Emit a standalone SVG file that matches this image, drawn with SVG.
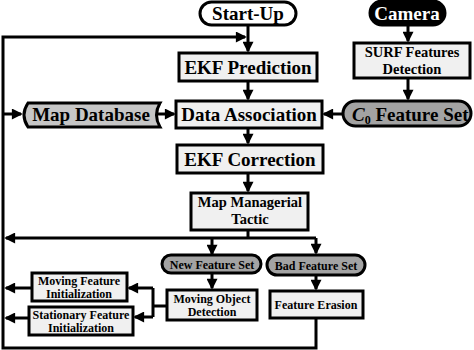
<svg xmlns="http://www.w3.org/2000/svg" width="474" height="350" viewBox="0 0 474 350">
<style>
.box{fill:#f0f0f0;stroke:#000;stroke-width:3}
.pill{fill:#a3a3a3;stroke:#000;stroke-width:3}
.db{fill:#c6c6c6;stroke:#000;stroke-width:3}
.ln{fill:none;stroke:#000;stroke-width:3}
.t{font-weight:bold;fill:#000;text-anchor:middle}
.big{font-size:19px}
.mid{font-size:14.5px}
.sm{font-size:12px}
</style>
<defs>
<marker id="ah" viewBox="0 0 10 10" refX="8.3" refY="5" markerWidth="12" markerHeight="11" markerUnits="userSpaceOnUse" orient="auto">
<path d="M0,0 L10,5 L0,10 z" fill="#000"/>
</marker>
</defs>
<rect width="474" height="350" fill="#fff"/>
<g id="connectors">
<path class="ln" d="M316,318 V348 H3 V37 H245" marker-end="url(#ah)"/>
<path class="ln" d="M248,25 V51" marker-end="url(#ah)"/>
<path class="ln" d="M248,81 V99" marker-end="url(#ah)"/>
<path class="ln" d="M248,128 V143" marker-end="url(#ah)"/>
<path class="ln" d="M248,173 V191" marker-end="url(#ah)"/>
<path class="ln" d="M3,114 H21" marker-end="url(#ah)"/>
<path class="ln" d="M158,114 H174" marker-end="url(#ah)"/>
<path class="ln" d="M343,114 H324" marker-end="url(#ah)"/>
<path class="ln" d="M408,25 V41" marker-end="url(#ah)"/>
<path class="ln" d="M408,78 V99" marker-end="url(#ah)"/>
<path class="ln" d="M248,230 V238"/>
<path class="ln" d="M316,238 H6" marker-end="url(#ah)"/>
<path class="ln" d="M212,238 V254" marker-end="url(#ah)"/>
<path class="ln" d="M316,238 V253" marker-end="url(#ah)"/>
<path class="ln" d="M212,273 V288" marker-end="url(#ah)"/>
<path class="ln" d="M316,275 V289" marker-end="url(#ah)"/>
<path class="ln" d="M167,306 H153 M153,288 V317"/>
<path class="ln" d="M153,288 H129" marker-end="url(#ah)"/>
<path class="ln" d="M153,317 H135" marker-end="url(#ah)"/>
<path class="ln" d="M31,288 H6" marker-end="url(#ah)"/>
<path class="ln" d="M28,318 H6" marker-end="url(#ah)"/>
</g>
<g font-family="'Liberation Serif', 'Times New Roman', serif">
<g id="startup">
<rect x="200" y="2" width="96" height="23" rx="11.5" fill="#fff" stroke="#000" stroke-width="3"/>
<text class="t big" x="248" y="20">Start-Up</text>
</g>
<g id="camera">
<rect x="370" y="1" width="75" height="24" rx="12" fill="#000" stroke="#000" stroke-width="3"/>
<text class="t big" x="407" y="20" style="fill:#fff">Camera</text>
</g>
<g id="ekf-prediction">
<rect class="box" x="179" y="53" width="138" height="28"/>
<text class="t big" x="248" y="74">EKF Prediction</text>
</g>
<g id="surf">
<rect class="box" x="354" y="43" width="116" height="35"/>
<text class="t mid" x="412" y="57">SURF Features</text>
<text class="t mid" x="412" y="74">Detection</text>
</g>
<g id="map-database">
<path class="db" d="M28,103 H160 Q153,115 160,127 H28 Q20,115 28,103 Z"/>
<text class="t big" x="91" y="121">Map Database</text>
</g>
<g id="data-association">
<rect class="box" x="176" y="101" width="146" height="27"/>
<text class="t big" x="249" y="121">Data Association</text>
</g>
<g id="c0-feature-set">
<rect class="pill" x="343" y="101" width="128" height="25" rx="12.5"/>
<text class="t big" x="352" y="121" style="text-anchor:start"><tspan font-style="italic">C</tspan><tspan font-size="12" dy="3">0</tspan><tspan dy="-3"> Feature Set</tspan></text>
</g>
<g id="ekf-correction">
<rect class="box" x="177" y="145" width="146" height="28"/>
<text class="t big" x="250" y="166">EKF Correction</text>
</g>
<g id="map-managerial">
<rect class="box" x="191" y="193" width="117" height="37"/>
<text class="t mid" x="250" y="207">Map Managerial</text>
<text class="t mid" x="250" y="224">Tactic</text>
</g>
<g id="new-feature-set">
<rect class="pill" x="162" y="255" width="99" height="18" rx="9"/>
<text class="t sm" x="212" y="268.5">New Feature Set</text>
</g>
<g id="bad-feature-set">
<rect class="pill" x="267" y="255" width="98" height="20" rx="10"/>
<text class="t sm" x="316" y="269.5">Bad Feature Set</text>
</g>
<g id="moving-object-detection">
<rect class="box" x="167" y="290" width="90" height="30"/>
<text class="t sm" x="212" y="303">Moving Object</text>
<text class="t sm" x="212" y="316">Detection</text>
</g>
<g id="feature-erasion">
<rect class="box" x="270" y="291" width="93" height="27"/>
<text class="t sm" x="316" y="308.5">Feature Erasion</text>
</g>
<g id="moving-feature-init">
<rect class="box" x="32" y="273" width="95" height="28"/>
<text class="t sm" x="79" y="284.5">Moving Feature</text>
<text class="t sm" x="79" y="298">Initialization</text>
</g>
<g id="stationary-feature-init">
<rect class="box" x="29" y="307" width="104" height="28"/>
<text class="t sm" x="81" y="318.5">Stationary Feature</text>
<text class="t sm" x="81" y="332">Initialization</text>
</g>
</g>
</svg>
